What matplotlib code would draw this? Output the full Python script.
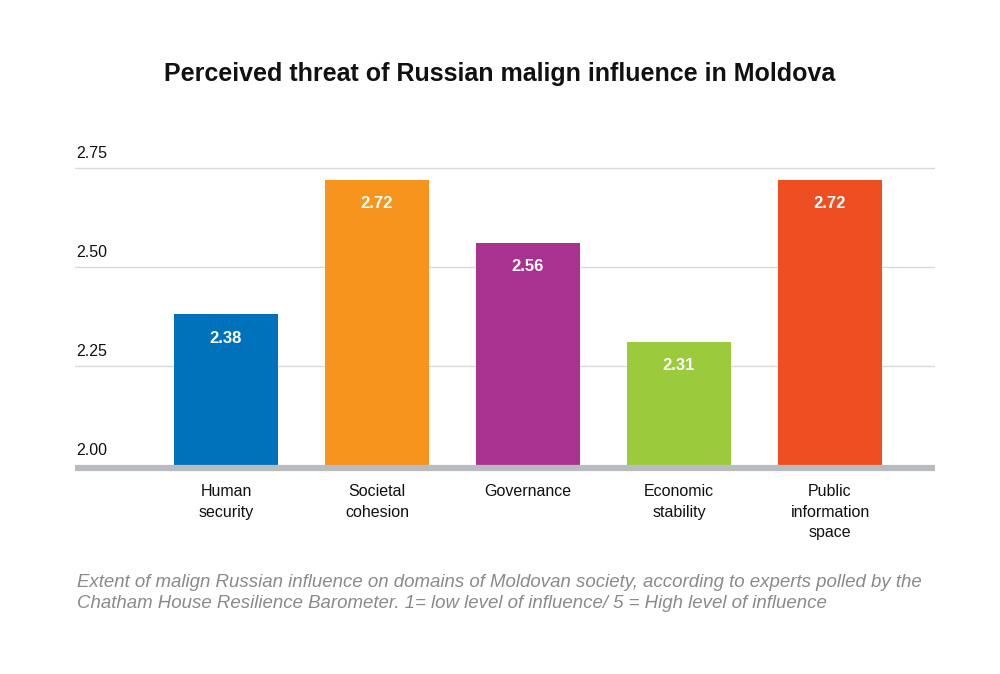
import matplotlib
matplotlib.use("Agg")
import matplotlib.pyplot as plt
import matplotlib.transforms as mtransforms

categories = ["Human\nsecurity", "Societal\ncohesion", "Governance", "Economic\nstability", "Public\ninformation\nspace"]
values = [2.38, 2.72, 2.56, 2.31, 2.72]
value_labels = ["2.38", "2.72", "2.56", "2.31", "2.72"]
colors = ["#0071BB", "#F7941E", "#A93291", "#9BCB3C", "#EF4E23"]
yticks = [2.00, 2.25, 2.50, 2.75]
ytick_labels = ["2.00", "2.25", "2.50", "2.75"]
title = "Perceived threat of Russian malign influence in Moldova"
caption = ("Extent of malign Russian influence on domains of Moldovan society, according to experts polled by the\n"
           "Chatham House Resilience Barometer. 1= low level of influence/ 5 = High level of influence")

plt.rcParams['font.family'] = ['Liberation Sans', 'DejaVu Sans']

fig = plt.figure(figsize=(10, 6.74), dpi=100)
ax = fig.add_axes([0.075, 0.3101, 0.86, 0.4703])

x = list(range(len(values)))
base = 2.0
ax.bar(x, [v - base for v in values], bottom=base, width=0.69, color=colors, zorder=2)

ax.set_xlim(-1.0, 4.695)
ax.set_ylim(2.0, 2.8)

for t in yticks[1:]:
    ax.axhline(t, color="#d9d9d9", lw=1.0, zorder=1)
base_trans = mtransforms.offset_copy(ax.get_yaxis_transform(), fig=fig, x=0, y=-3.5, units="dots")
ax.plot([0, 1], [2.0, 2.0], transform=base_trans, color="#b8bcc0", lw=4.5, zorder=3,
        solid_capstyle="butt", clip_on=False)

for s in ax.spines.values():
    s.set_visible(False)
ax.set_xticks([])
ax.set_yticks([])

# y tick labels above the gridlines
trans = mtransforms.blended_transform_factory(ax.transAxes, ax.transData)
for t, lab in zip(yticks, ytick_labels):
    ax.annotate(lab, xy=(0.002, t), xycoords=trans, xytext=(0, 5), textcoords="offset points",
                ha="left", va="bottom", fontsize=11.5, color="#111111")

# value labels inside bars
for xi, v, lab in zip(x, values, value_labels):
    ax.annotate(lab, xy=(xi, v), xytext=(0, -17), textcoords="offset points",
                ha="center", va="center", fontsize=12, fontweight="bold", color="white", zorder=4)

# category labels
for xi, c in zip(x, categories):
    ax.annotate(c, xy=(xi, 2.0), xytext=(0, -14), textcoords="offset points",
                ha="center", va="top", fontsize=11.5, color="#111111", linespacing=1.45)

fig.text(0.5, 1 - 74 / 674, title, ha="center", va="center", fontsize=18, fontweight="bold", color="#111111")
fig.text(0.077, 1 - 574 / 674, caption, ha="left", va="top", fontsize=13.4, style="italic",
         color="#8a8a8a", linespacing=1.3)

fig.savefig("out.png", dpi=100, facecolor="white")
